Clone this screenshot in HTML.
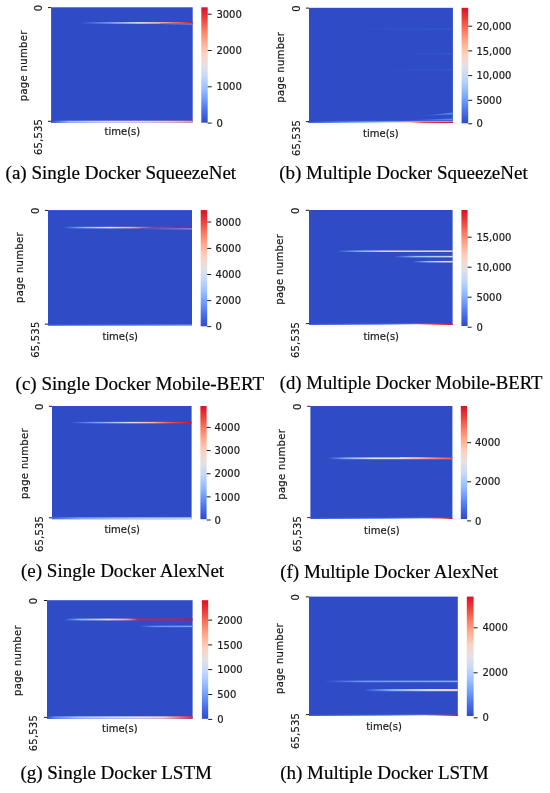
<!DOCTYPE html>
<html><head><meta charset="utf-8"><title>Figure</title>
<style>
html,body{margin:0;padding:0;background:#fff;}
svg{display:block;}
.dv{font-family:"DejaVu Sans","Liberation Sans",sans-serif;font-size:10px;fill:#1a1a1a;stroke:#1a1a1a;stroke-width:0.2px;}
.yl{letter-spacing:0.35px;}
.tk{letter-spacing:0.2px;}
.cap{font-family:"Liberation Serif","Times New Roman",serif;fill:#000;stroke:#000;stroke-width:0.2px;}
</style></head><body>
<svg width="550" height="793" viewBox="0 0 550 793">
<defs><filter id="bl" filterUnits="userSpaceOnUse" x="0" y="0" width="550" height="793"><feGaussianBlur stdDeviation="0 0.4"/></filter>
<linearGradient id="cb" x1="0" y1="1" x2="0" y2="0"><stop offset="0.00" stop-color="#2f4bc6"/><stop offset="0.10" stop-color="#4870e8"/><stop offset="0.20" stop-color="#6e9bfc"/><stop offset="0.30" stop-color="#9bc1ff"/><stop offset="0.40" stop-color="#c4d9fa"/><stop offset="0.50" stop-color="#e5e1e3"/><stop offset="0.60" stop-color="#fcd1bf"/><stop offset="0.70" stop-color="#ffac90"/><stop offset="0.80" stop-color="#fa7c62"/><stop offset="0.90" stop-color="#ec423c"/><stop offset="1.00" stop-color="#de0e28"/></linearGradient>
<linearGradient id="g1" x1="0" y1="0" x2="1" y2="0"><stop offset="0.000" stop-color="#2f4bc6"/><stop offset="0.300" stop-color="#84aefe"/><stop offset="0.510" stop-color="#e5e1e3"/><stop offset="0.730" stop-color="#feb399"/><stop offset="0.920" stop-color="#ec423c"/><stop offset="1.000" stop-color="#de0e28"/></linearGradient>
<linearGradient id="g2" x1="0" y1="0" x2="1" y2="0"><stop offset="0.000" stop-color="#2f4bc6"/><stop offset="1.000" stop-color="#77a3fd"/></linearGradient>
<linearGradient id="g3" x1="0" y1="0" x2="1" y2="0"><stop offset="0.000" stop-color="#2f4bc6"/><stop offset="0.130" stop-color="#9bc1ff"/><stop offset="0.400" stop-color="#dedfe8"/><stop offset="0.650" stop-color="#f0d9d1"/><stop offset="0.850" stop-color="#febea7"/><stop offset="1.000" stop-color="#fc9479"/></linearGradient>
<linearGradient id="g4" x1="0" y1="0" x2="1" y2="0"><stop offset="0.000" stop-color="#2f4bc6"/><stop offset="0.300" stop-color="#5079ec"/><stop offset="0.700" stop-color="#77a3fd"/><stop offset="1.000" stop-color="#84aefe"/></linearGradient>
<linearGradient id="g5" x1="0" y1="0" x2="1" y2="0"><stop offset="0.000" stop-color="#3c5ed7"/><stop offset="0.300" stop-color="#84aefe"/><stop offset="0.550" stop-color="#d4ddee"/><stop offset="0.700" stop-color="#fcd1bf"/><stop offset="0.800" stop-color="#ec423c"/><stop offset="1.000" stop-color="#de0e28"/></linearGradient>
<linearGradient id="g6" x1="0" y1="0" x2="1" y2="0"><stop offset="0.000" stop-color="#2f4bc6"/><stop offset="0.150" stop-color="#84aefe"/><stop offset="0.360" stop-color="#e5e1e3"/><stop offset="0.520" stop-color="#ffac90"/><stop offset="0.700" stop-color="#e52832"/><stop offset="1.000" stop-color="#de0e28"/></linearGradient>
<linearGradient id="g7" x1="0" y1="0" x2="1" y2="0"><stop offset="0.000" stop-color="#2f4bc6"/><stop offset="1.000" stop-color="#84aefe"/></linearGradient>
<linearGradient id="g8" x1="0" y1="0" x2="1" y2="0"><stop offset="0.000" stop-color="#3c5ed7"/><stop offset="1.000" stop-color="#84aefe"/></linearGradient>
<linearGradient id="g9" x1="0" y1="0" x2="1" y2="0"><stop offset="0.000" stop-color="#2f4bc6"/><stop offset="0.200" stop-color="#84aefe"/><stop offset="0.400" stop-color="#d4ddee"/><stop offset="0.600" stop-color="#f7d4c6"/><stop offset="1.000" stop-color="#fcd1bf"/></linearGradient>
<linearGradient id="g10" x1="0" y1="0" x2="1" y2="0"><stop offset="0.000" stop-color="#2f4bc6"/><stop offset="0.400" stop-color="#9bc1ff"/><stop offset="1.000" stop-color="#cbdbf5"/></linearGradient>
<linearGradient id="g11" x1="0" y1="0" x2="1" y2="0"><stop offset="0.000" stop-color="#2f4bc6"/><stop offset="0.400" stop-color="#9bc1ff"/><stop offset="0.800" stop-color="#e5e1e3"/><stop offset="1.000" stop-color="#f7d4c6"/></linearGradient>
<linearGradient id="g12" x1="0" y1="0" x2="1" y2="0"><stop offset="0.000" stop-color="#3c5ed7"/><stop offset="0.500" stop-color="#77a3fd"/><stop offset="0.750" stop-color="#e5e1e3"/><stop offset="0.900" stop-color="#f35f4f"/><stop offset="1.000" stop-color="#de0e28"/></linearGradient>
<linearGradient id="g13" x1="0" y1="0" x2="1" y2="0"><stop offset="0.000" stop-color="#2f4bc6"/><stop offset="0.200" stop-color="#6e9bfc"/><stop offset="0.500" stop-color="#dedfe8"/><stop offset="0.680" stop-color="#feb399"/><stop offset="0.850" stop-color="#ec423c"/><stop offset="1.000" stop-color="#de0e28"/></linearGradient>
<linearGradient id="g14" x1="0" y1="0" x2="1" y2="0"><stop offset="0.000" stop-color="#4369e1"/><stop offset="0.200" stop-color="#77a3fd"/><stop offset="0.600" stop-color="#a3c6fe"/><stop offset="1.000" stop-color="#bcd4fb"/></linearGradient>
<linearGradient id="g15" x1="0" y1="0" x2="1" y2="0"><stop offset="0.000" stop-color="#2f4bc6"/><stop offset="0.150" stop-color="#84aefe"/><stop offset="0.360" stop-color="#dedfe8"/><stop offset="0.600" stop-color="#f0d9d1"/><stop offset="0.780" stop-color="#feb399"/><stop offset="1.000" stop-color="#fea287"/></linearGradient>
<linearGradient id="g16" x1="0" y1="0" x2="1" y2="0"><stop offset="0.000" stop-color="#f0d9d1"/><stop offset="0.350" stop-color="#ffac90"/><stop offset="0.750" stop-color="#ec423c"/><stop offset="1.000" stop-color="#de0e28"/></linearGradient>
<linearGradient id="g17" x1="0" y1="0" x2="1" y2="0"><stop offset="0.000" stop-color="#3c5ed7"/><stop offset="0.500" stop-color="#6e9bfc"/><stop offset="0.800" stop-color="#c4d9fa"/><stop offset="0.920" stop-color="#fc9479"/><stop offset="1.000" stop-color="#de0e28"/></linearGradient>
<linearGradient id="g18" x1="0" y1="0" x2="1" y2="0"><stop offset="0.000" stop-color="#2f4bc6"/><stop offset="0.120" stop-color="#84aefe"/><stop offset="0.340" stop-color="#e5e1e3"/><stop offset="0.490" stop-color="#fea287"/><stop offset="0.575" stop-color="#e21e2e"/><stop offset="1.000" stop-color="#de0e28"/></linearGradient>
<linearGradient id="g19" x1="0" y1="0" x2="1" y2="0"><stop offset="0.000" stop-color="#2f4bc6"/><stop offset="0.300" stop-color="#638ef6"/><stop offset="1.000" stop-color="#7ca6fd"/></linearGradient>
<linearGradient id="g20" x1="0" y1="0" x2="1" y2="0"><stop offset="0.000" stop-color="#2f4bc6"/><stop offset="0.050" stop-color="#5b86f2"/><stop offset="0.200" stop-color="#9bc1ff"/><stop offset="0.450" stop-color="#cbdbf5"/><stop offset="0.650" stop-color="#e5e1e3"/><stop offset="0.800" stop-color="#fdcab6"/><stop offset="0.900" stop-color="#fa7c62"/><stop offset="1.000" stop-color="#e52832"/></linearGradient>
<linearGradient id="g21" x1="0" y1="0" x2="1" y2="0"><stop offset="0.000" stop-color="#2f4bc6"/><stop offset="0.300" stop-color="#6e9bfc"/><stop offset="1.000" stop-color="#84aefe"/></linearGradient>
<linearGradient id="g22" x1="0" y1="0" x2="1" y2="0"><stop offset="0.000" stop-color="#2f4bc6"/><stop offset="0.300" stop-color="#84aefe"/><stop offset="0.700" stop-color="#d4ddee"/><stop offset="1.000" stop-color="#f7d4c6"/></linearGradient>
<linearGradient id="g23" x1="0" y1="0" x2="1" y2="0"><stop offset="0.000" stop-color="#3c5ed7"/><stop offset="0.500" stop-color="#77a3fd"/><stop offset="0.780" stop-color="#e5e1e3"/><stop offset="0.920" stop-color="#f35f4f"/><stop offset="1.000" stop-color="#de0e28"/></linearGradient></defs>
<rect x="0" y="0" width="550" height="793" fill="#fff"/>
<rect x="51.10" y="7.30" width="141.60" height="115.40" fill="#2f4bc6"/>
<g filter="url(#bl)">
<rect x="81.00" y="22.10" width="111.70" height="1.60" fill="url(#g1)"/>
<rect x="160.00" y="23.65" width="32.70" height="0.90" fill="url(#g2)"/>
<rect x="51.10" y="120.70" width="141.60" height="2.00" fill="url(#g3)"/>
</g>
<rect x="201.30" y="7.30" width="6.40" height="115.40" fill="url(#cb)"/>
<line x1="207.70" y1="123.10" x2="211.70" y2="123.10" stroke="#1a1a1a" stroke-width="1"/>
<text x="216.40" y="126.75" class="dv">0</text>
<line x1="207.70" y1="86.80" x2="211.70" y2="86.80" stroke="#1a1a1a" stroke-width="1"/>
<text x="216.40" y="90.45" class="dv">1000</text>
<line x1="207.70" y1="50.50" x2="211.70" y2="50.50" stroke="#1a1a1a" stroke-width="1"/>
<text x="216.40" y="54.15" class="dv">2000</text>
<line x1="207.70" y1="14.20" x2="211.70" y2="14.20" stroke="#1a1a1a" stroke-width="1"/>
<text x="216.40" y="17.85" class="dv">3000</text>
<line x1="48.00" y1="7.60" x2="51.10" y2="7.60" stroke="#1a1a1a" stroke-width="1"/>
<line x1="48.00" y1="121.30" x2="51.10" y2="121.30" stroke="#1a1a1a" stroke-width="1"/>
<text transform="translate(41.50,8.10) rotate(-90)" text-anchor="middle" class="dv">0</text>
<text transform="translate(41.50,118.80) rotate(-90)" text-anchor="end" class="dv tk">65,535</text>
<text transform="translate(26.50,65.80) rotate(-90)" text-anchor="middle" class="dv yl">page number</text>
<text x="122.40" y="135.20" text-anchor="middle" class="dv">time(s)</text>
<text x="5.60" y="179.40" class="cap" style="font-size:19.00px">(a) Single Docker SqueezeNet</text>
<rect x="309.00" y="7.80" width="143.90" height="115.20" fill="#2f4bc6"/>
<g filter="url(#bl)">
<rect x="308.50" y="120.90" width="144.40" height="1.20" fill="url(#g4)"/>
<rect x="308.50" y="121.95" width="144.40" height="1.10" fill="url(#g5)"/>
<linearGradient id="xb1" x1="0" y1="0" x2="1" y2="0"><stop offset="0" stop-color="#2f4bc6"/><stop offset="1" stop-color="#5a88ea"/></linearGradient>
<polygon points="422,115.6 452.9,112.5 452.9,114.6 422,116" fill="url(#xb1)"/>
<polygon points="398,120.6 452.9,118.6 452.9,120.2 398,121" fill="url(#xb1)"/>
<linearGradient id="xb2" x1="0" y1="0" x2="1" y2="0"><stop offset="0" stop-color="#2f4bc6"/><stop offset="1" stop-color="#3656cf"/></linearGradient>
<rect x="343" y="28.4" width="109.9" height="1.4" fill="url(#xb2)"/>
<rect x="405" y="53.1" width="47.9" height="1.6" fill="url(#xb2)"/>
<rect x="380" y="69.2" width="72.9" height="1.4" fill="url(#xb2)"/>
</g>
<rect x="461.60" y="7.80" width="6.60" height="115.50" fill="url(#cb)"/>
<line x1="468.20" y1="123.80" x2="472.20" y2="123.80" stroke="#1a1a1a" stroke-width="1"/>
<text x="476.40" y="127.45" class="dv">0</text>
<line x1="468.20" y1="100.30" x2="472.20" y2="100.30" stroke="#1a1a1a" stroke-width="1"/>
<text x="476.40" y="103.95" class="dv">5000</text>
<line x1="468.20" y1="75.60" x2="472.20" y2="75.60" stroke="#1a1a1a" stroke-width="1"/>
<text x="476.40" y="79.25" class="dv">10,000</text>
<line x1="468.20" y1="50.90" x2="472.20" y2="50.90" stroke="#1a1a1a" stroke-width="1"/>
<text x="476.40" y="54.55" class="dv">15,000</text>
<line x1="468.20" y1="26.20" x2="472.20" y2="26.20" stroke="#1a1a1a" stroke-width="1"/>
<text x="476.40" y="29.85" class="dv">20,000</text>
<line x1="305.90" y1="8.10" x2="309.00" y2="8.10" stroke="#1a1a1a" stroke-width="1"/>
<line x1="305.90" y1="121.60" x2="309.00" y2="121.60" stroke="#1a1a1a" stroke-width="1"/>
<text transform="translate(299.50,8.60) rotate(-90)" text-anchor="middle" class="dv">0</text>
<text transform="translate(299.50,119.80) rotate(-90)" text-anchor="end" class="dv tk">65,535</text>
<text transform="translate(284.20,67.20) rotate(-90)" text-anchor="middle" class="dv yl">page number</text>
<text x="380.90" y="136.60" text-anchor="middle" class="dv">time(s)</text>
<text x="279.20" y="179.40" class="cap" style="font-size:19.00px">(b) Multiple Docker SqueezeNet</text>
<rect x="48.00" y="210.10" width="144.00" height="115.40" fill="#2f4bc6"/>
<g filter="url(#bl)">
<rect x="63.00" y="226.80" width="129.00" height="1.60" fill="url(#g6)"/>
<rect x="140.00" y="228.40" width="52.00" height="1.00" fill="url(#g7)"/>
<rect x="48.00" y="324.55" width="144.00" height="0.90" fill="url(#g8)"/>
</g>
<rect x="200.70" y="210.10" width="6.50" height="116.20" fill="url(#cb)"/>
<line x1="207.20" y1="326.60" x2="211.20" y2="326.60" stroke="#1a1a1a" stroke-width="1"/>
<text x="215.60" y="330.25" class="dv">0</text>
<line x1="207.20" y1="300.60" x2="211.20" y2="300.60" stroke="#1a1a1a" stroke-width="1"/>
<text x="215.60" y="304.25" class="dv">2000</text>
<line x1="207.20" y1="274.50" x2="211.20" y2="274.50" stroke="#1a1a1a" stroke-width="1"/>
<text x="215.60" y="278.15" class="dv">4000</text>
<line x1="207.20" y1="248.40" x2="211.20" y2="248.40" stroke="#1a1a1a" stroke-width="1"/>
<text x="215.60" y="252.05" class="dv">6000</text>
<line x1="207.20" y1="222.00" x2="211.20" y2="222.00" stroke="#1a1a1a" stroke-width="1"/>
<text x="215.60" y="225.65" class="dv">8000</text>
<line x1="44.90" y1="210.40" x2="48.00" y2="210.40" stroke="#1a1a1a" stroke-width="1"/>
<line x1="44.90" y1="324.10" x2="48.00" y2="324.10" stroke="#1a1a1a" stroke-width="1"/>
<text transform="translate(38.80,210.90) rotate(-90)" text-anchor="middle" class="dv">0</text>
<text transform="translate(38.80,321.50) rotate(-90)" text-anchor="end" class="dv tk">65,535</text>
<text transform="translate(23.10,267.50) rotate(-90)" text-anchor="middle" class="dv yl">page number</text>
<text x="120.20" y="340.40" text-anchor="middle" class="dv">time(s)</text>
<text x="15.60" y="390.40" class="cap" style="font-size:19.00px">(c) Single Docker Mobile-BERT</text>
<rect x="309.00" y="210.00" width="143.60" height="115.00" fill="#2f4bc6"/>
<g filter="url(#bl)">
<rect x="336.50" y="250.45" width="116.10" height="1.50" fill="url(#g9)"/>
<rect x="393.80" y="255.85" width="58.80" height="1.50" fill="url(#g10)"/>
<rect x="412.90" y="260.95" width="39.70" height="1.50" fill="url(#g11)"/>
<rect x="309.00" y="323.80" width="143.60" height="1.20" fill="url(#g12)"/>
</g>
<rect x="461.40" y="210.00" width="6.20" height="116.00" fill="url(#cb)"/>
<line x1="467.60" y1="327.20" x2="471.60" y2="327.20" stroke="#1a1a1a" stroke-width="1"/>
<text x="476.40" y="330.85" class="dv">0</text>
<line x1="467.60" y1="297.20" x2="471.60" y2="297.20" stroke="#1a1a1a" stroke-width="1"/>
<text x="476.40" y="300.85" class="dv">5000</text>
<line x1="467.60" y1="267.20" x2="471.60" y2="267.20" stroke="#1a1a1a" stroke-width="1"/>
<text x="476.40" y="270.85" class="dv">10,000</text>
<line x1="467.60" y1="237.20" x2="471.60" y2="237.20" stroke="#1a1a1a" stroke-width="1"/>
<text x="476.40" y="240.85" class="dv">15,000</text>
<line x1="305.90" y1="210.30" x2="309.00" y2="210.30" stroke="#1a1a1a" stroke-width="1"/>
<line x1="305.90" y1="323.60" x2="309.00" y2="323.60" stroke="#1a1a1a" stroke-width="1"/>
<text transform="translate(299.00,210.80) rotate(-90)" text-anchor="middle" class="dv">0</text>
<text transform="translate(299.00,321.80) rotate(-90)" text-anchor="end" class="dv tk">65,535</text>
<text transform="translate(283.30,269.30) rotate(-90)" text-anchor="middle" class="dv yl">page number</text>
<text x="381.20" y="340.10" text-anchor="middle" class="dv">time(s)</text>
<text x="279.70" y="389.40" class="cap" style="font-size:18.75px">(d) Multiple Docker Mobile-BERT</text>
<rect x="52.00" y="406.00" width="139.60" height="113.20" fill="#2f4bc6"/>
<g filter="url(#bl)">
<rect x="70.00" y="421.85" width="121.60" height="1.50" fill="url(#g13)"/>
<rect x="52.00" y="517.30" width="139.60" height="1.80" fill="url(#g14)"/>
</g>
<rect x="200.40" y="406.00" width="6.20" height="113.20" fill="url(#cb)"/>
<line x1="206.60" y1="520.00" x2="210.60" y2="520.00" stroke="#1a1a1a" stroke-width="1"/>
<text x="214.60" y="523.65" class="dv">0</text>
<line x1="206.60" y1="496.85" x2="210.60" y2="496.85" stroke="#1a1a1a" stroke-width="1"/>
<text x="214.60" y="500.50" class="dv">1000</text>
<line x1="206.60" y1="473.70" x2="210.60" y2="473.70" stroke="#1a1a1a" stroke-width="1"/>
<text x="214.60" y="477.35" class="dv">2000</text>
<line x1="206.60" y1="450.55" x2="210.60" y2="450.55" stroke="#1a1a1a" stroke-width="1"/>
<text x="214.60" y="454.20" class="dv">3000</text>
<line x1="206.60" y1="427.40" x2="210.60" y2="427.40" stroke="#1a1a1a" stroke-width="1"/>
<text x="214.60" y="431.05" class="dv">4000</text>
<line x1="48.90" y1="406.30" x2="52.00" y2="406.30" stroke="#1a1a1a" stroke-width="1"/>
<line x1="48.90" y1="517.80" x2="52.00" y2="517.80" stroke="#1a1a1a" stroke-width="1"/>
<text transform="translate(43.00,406.80) rotate(-90)" text-anchor="middle" class="dv">0</text>
<text transform="translate(43.00,515.80) rotate(-90)" text-anchor="end" class="dv tk">65,535</text>
<text transform="translate(27.60,463.50) rotate(-90)" text-anchor="middle" class="dv yl">page number</text>
<text x="122.20" y="532.60" text-anchor="middle" class="dv">time(s)</text>
<text x="21.00" y="577.00" class="cap" style="font-size:19.00px">(e) Single Docker AlexNet</text>
<rect x="310.40" y="406.00" width="142.00" height="113.00" fill="#2f4bc6"/>
<g filter="url(#bl)">
<rect x="327.70" y="457.40" width="124.70" height="1.80" fill="url(#g15)"/>
<rect x="400.00" y="457.30" width="52.40" height="1.20" fill="url(#g16)"/>
<rect x="311.00" y="517.85" width="141.40" height="1.10" fill="url(#g17)"/>
</g>
<rect x="460.80" y="406.00" width="6.30" height="113.00" fill="url(#cb)"/>
<line x1="467.10" y1="520.90" x2="471.10" y2="520.90" stroke="#1a1a1a" stroke-width="1"/>
<text x="475.00" y="524.55" class="dv">0</text>
<line x1="467.10" y1="481.80" x2="471.10" y2="481.80" stroke="#1a1a1a" stroke-width="1"/>
<text x="475.00" y="485.45" class="dv">2000</text>
<line x1="467.10" y1="442.70" x2="471.10" y2="442.70" stroke="#1a1a1a" stroke-width="1"/>
<text x="475.00" y="446.35" class="dv">4000</text>
<line x1="307.30" y1="406.30" x2="310.40" y2="406.30" stroke="#1a1a1a" stroke-width="1"/>
<line x1="307.30" y1="517.60" x2="310.40" y2="517.60" stroke="#1a1a1a" stroke-width="1"/>
<text transform="translate(301.00,406.80) rotate(-90)" text-anchor="middle" class="dv">0</text>
<text transform="translate(301.00,515.80) rotate(-90)" text-anchor="end" class="dv tk">65,535</text>
<text transform="translate(284.90,464.30) rotate(-90)" text-anchor="middle" class="dv yl">page number</text>
<text x="381.90" y="533.80" text-anchor="middle" class="dv">time(s)</text>
<text x="280.20" y="577.60" class="cap" style="font-size:19.00px">(f) Multiple Docker AlexNet</text>
<rect x="47.00" y="600.20" width="145.60" height="118.60" fill="#2f4bc6"/>
<g filter="url(#bl)">
<rect x="64.00" y="618.60" width="128.60" height="1.80" fill="url(#g18)"/>
<rect x="138.50" y="625.65" width="54.10" height="1.50" fill="url(#g19)"/>
<rect x="47.00" y="716.30" width="145.60" height="2.40" fill="url(#g20)"/>
</g>
<rect x="201.90" y="600.20" width="6.30" height="118.60" fill="url(#cb)"/>
<line x1="208.20" y1="719.40" x2="212.20" y2="719.40" stroke="#1a1a1a" stroke-width="1"/>
<text x="217.20" y="723.05" class="dv">0</text>
<line x1="208.20" y1="694.50" x2="212.20" y2="694.50" stroke="#1a1a1a" stroke-width="1"/>
<text x="217.20" y="698.15" class="dv">500</text>
<line x1="208.20" y1="669.60" x2="212.20" y2="669.60" stroke="#1a1a1a" stroke-width="1"/>
<text x="217.20" y="673.25" class="dv">1000</text>
<line x1="208.20" y1="644.90" x2="212.20" y2="644.90" stroke="#1a1a1a" stroke-width="1"/>
<text x="217.20" y="648.55" class="dv">1500</text>
<line x1="208.20" y1="620.10" x2="212.20" y2="620.10" stroke="#1a1a1a" stroke-width="1"/>
<text x="217.20" y="623.75" class="dv">2000</text>
<line x1="43.90" y1="600.50" x2="47.00" y2="600.50" stroke="#1a1a1a" stroke-width="1"/>
<line x1="43.90" y1="717.40" x2="47.00" y2="717.40" stroke="#1a1a1a" stroke-width="1"/>
<text transform="translate(37.00,601.00) rotate(-90)" text-anchor="middle" class="dv">0</text>
<text transform="translate(37.00,715.00) rotate(-90)" text-anchor="end" class="dv tk">65,535</text>
<text transform="translate(21.10,660.50) rotate(-90)" text-anchor="middle" class="dv yl">page number</text>
<text x="119.80" y="732.30" text-anchor="middle" class="dv">time(s)</text>
<text x="20.40" y="779.00" class="cap" style="font-size:19.00px">(g) Single Docker LSTM</text>
<rect x="309.00" y="596.60" width="148.80" height="119.40" fill="#2f4bc6"/>
<g filter="url(#bl)">
<rect x="324.00" y="680.60" width="133.80" height="1.60" fill="url(#g21)"/>
<rect x="364.00" y="689.00" width="93.80" height="2.20" fill="url(#g22)"/>
<rect x="309.00" y="714.80" width="148.80" height="1.20" fill="url(#g23)"/>
</g>
<rect x="466.80" y="596.60" width="6.80" height="119.40" fill="url(#cb)"/>
<line x1="473.60" y1="717.80" x2="477.60" y2="717.80" stroke="#1a1a1a" stroke-width="1"/>
<text x="482.40" y="721.45" class="dv">0</text>
<line x1="473.60" y1="672.80" x2="477.60" y2="672.80" stroke="#1a1a1a" stroke-width="1"/>
<text x="482.40" y="676.45" class="dv">2000</text>
<line x1="473.60" y1="627.80" x2="477.60" y2="627.80" stroke="#1a1a1a" stroke-width="1"/>
<text x="482.40" y="631.45" class="dv">4000</text>
<line x1="305.90" y1="596.90" x2="309.00" y2="596.90" stroke="#1a1a1a" stroke-width="1"/>
<line x1="305.90" y1="714.60" x2="309.00" y2="714.60" stroke="#1a1a1a" stroke-width="1"/>
<text transform="translate(298.60,597.40) rotate(-90)" text-anchor="middle" class="dv">0</text>
<text transform="translate(298.60,712.80) rotate(-90)" text-anchor="end" class="dv tk">65,535</text>
<text transform="translate(282.70,658.50) rotate(-90)" text-anchor="middle" class="dv yl">page number</text>
<text x="384.00" y="730.40" text-anchor="middle" class="dv">time(s)</text>
<text x="280.20" y="779.00" class="cap" style="font-size:19.00px">(h) Multiple Docker LSTM</text>
</svg>
</body></html>
